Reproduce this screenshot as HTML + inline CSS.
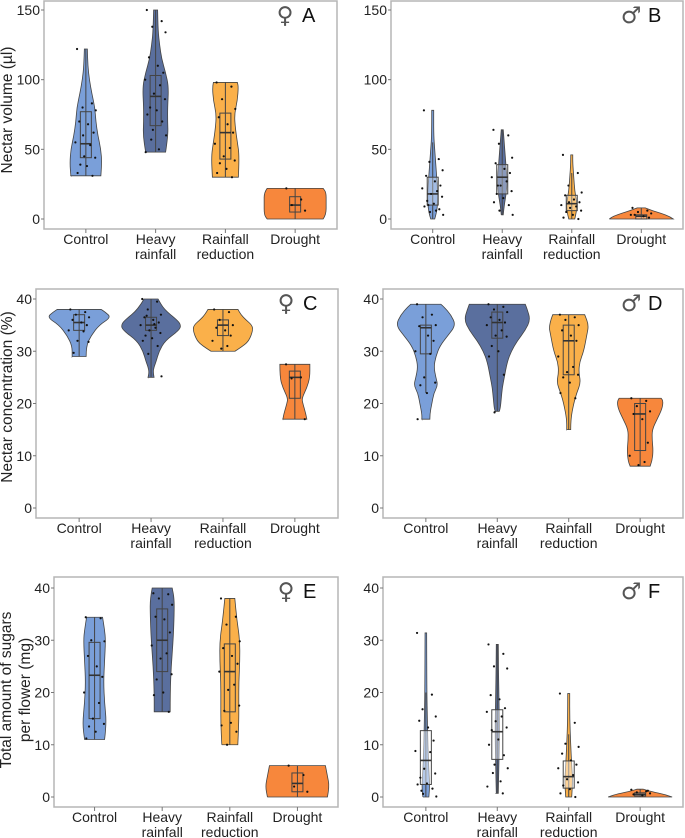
<!DOCTYPE html>
<html><head><meta charset="utf-8">
<style>
html,body{margin:0;padding:0;background:#fff;}
svg{display:block;font-family:"Liberation Sans",Arial,sans-serif;}
</style></head>
<body>
<svg id="chart" width="685" height="838" viewBox="0 0 685 838" xmlns="http://www.w3.org/2000/svg"></svg>
<script>
// ---------- data ----------
const categories = ["Control", "Heavy rainfall", "Rainfall reduction", "Drought"];
const catLine1 = ["Control", "Heavy", "Rainfall", "Drought"];
const catLine2 = ["", "rainfall", "reduction", ""];
const colors = ["#7A9FD9", "#5A6F9E", "#FAB04A", "#F7873C"];

const ticksVolume = [0, 50, 100, 150];
const ticksPct = [0, 10, 20, 30, 40];

// violin density profiles: [value, density]
const violinA = [
 [[31,15],[40,16],[50,15],[60,12],[70,10],[80,9],[90,6],[100,3.5],[110,2],[122,1.5]],
 [[48,10],[60,12.5],[70,12],[80,12],[95,13],[105,10],[115,6],[125,4],[135,2.5],[150,2]],
 [[30,13],[45,14],[55,12],[65,10],[75,9],[85,12],[95,13],[98,12]],
 [[0,28],[3,31],[12,31],[19,31],[22,28]]
];
const violinB = [
 [[0,2],[5,4],[12,5],[20,5],[30,4],[40,3],[50,2],[60,1],[78,1]],
 [[3,1],[10,2],[18,4],[28,5],[36,4],[45,3],[55,2],[64,1]],
 [[0,3],[6,5],[12,5],[20,3],[30,2],[40,1],[46,1]],
 [[0,32],[2,28],[4,20],[6,11],[8,4]]
];
const violinC = [
 [[29,7],[31,7],[33,12],[35,20],[36.5,32],[37.5,26],[38,22]],
 [[25,3],[26,2],[27,3],[28,5],[30,8],[32,14],[34,28],[35,30],[36,26],[38,13],[40,7]],
 [[30,12],[31,20],[32,26],[34,30],[35,29],[36,23],[37,18],[38,15]],
 [[17,12],[18,11],[20,8],[21,7],[23,12],[25,15],[27.5,15]]
];
const violinD = [
 [[17,4],[18,4],[20,6],[22,8],[23.5,12],[25,10],[27,8],[29,10],[31,14],[33,22],[35,30],[37,25],[38.5,18],[39,15]],
 [[18.5,2],[19,3],[21,4],[23,5],[25,7],[28,10],[30,14],[32,20],[34,28],[36,33],[38,30],[39,28]],
 [[15,2],[17,2],[20,5],[22,8],[24,12],[26,10],[28,11],[30,15],[33,18],[35,20],[37,16]],
 [[8,10],[9,12],[11,13],[13,12],[15,12],[17,17],[19,22],[20.5,23],[21,21]]
];
const violinE = [
 [[11,10],[14,12],[18,10],[22,9],[26,10],[30,11],[32,10],[34.4,8]],
 [[16.3,8],[20,8],[25,9],[30,11],[35,12],[38,12],[40,10]],
 [[10,8],[14,9],[18,9],[22,9],[26,10],[30,10],[34,7],[38,5]],
 [[0,30],[2,32],[4,30],[6,28]]
];
const violinF = [
 [[0,3],[2,4],[5,3],[10,2],[15,1.5],[20,1],[31.4,0.8]],
 [[0.7,1],[5,1.5],[12,2.2],[18,1.8],[24,1.2],[29.2,1]],
 [[0,3],[3,4],[6,3],[10,2],[15,1],[19.8,1]],
 [[0,32],[0.5,25],[1,12],[1.5,3]]
];

// box stats: [whiskerMin, q1, median, q3, whiskerMax]
const boxA = [[31,44,54,77,122],[48,67,88,103,150],[30,43,62,76,98],[0,5,10,16,22]];
const boxB = [[0,10,18,30,55],[3,18,30,39,64],[0,6,11,17,33],[0,0,2,3,8]];
const boxC = [[29,34,35.5,37,38],[25,34,35,36.5,40],[30,33,35,36,38],[17,21,25,26.2,27.5]];
const boxD = [[22,29.5,34.5,35,39],[18.5,32.5,35.5,37.5,39],[15,25.5,32,35,37],[8,11,18,20,21]];
const boxE = [[11,15,23.3,29.6,34.4],[16.3,24,30,36,40],[10,16.3,24,29.3,38],[0,1,2.6,4.6,6]];
const boxF = [[0,2.4,7,12.7,20],[0.7,7.2,12.5,16.7,29.2],[0,1.7,3.9,6.9,12],[0,0.2,0.5,0.8,1.5]];

// observed points
const pointsA = [
 [122,83,80,78,70,68,62,55,53,45,44,39,38,33,31,60],
 [150,142,138,134,116,110,105,100,96,90,86,80,78,75,70,64,60,57,50,48],
 [98,95,86,79,73,68,62,54,51,45,42,40,36,33,30],
 [22,14,10,6]
];
const pointsB = [
 [78,43,41,35,31,27,24,22,20,18,16,13,11,9,7,5,3,10,6],
 [64,60,54,44,40,36,33,30,27,24,20,18,15,12,10,6,3,24],
 [46,33,24,19,17,14,12,10,9,8,6,5,3,1,0,12],
 [8,6,5,4,3,2,1,3]
];
const pointsC = [
 [38,37.5,37,36.5,36,35.5,35,34,33.8,32,31.8,29.7],
 [40,39.5,38,37,36.5,36,35.5,35,34.5,34,33.5,33,32.5,32,31,29.5,25.2,36.8,35.2],
 [38,37.5,36,35,34.5,34,33,32,31,30.5],
 [27.5,25,24.8,17]
];
const pointsD = [
 [39,37,36.5,35,34.8,33,32,30,29.5,25,24,23.5,22,17],
 [39,38.5,38,37.5,36.5,36,35.5,35,34,33,32.8,31,30,29,25.5,18.3],
 [37,36.5,36,35,34,33,32,29,27,26,25.5,25,24,22,21],
 [21,20.5,19.5,18.5,18,17,12.5,10,8.8,8.2]
];
const pointsE = [
 [34.4,34.2,30,29.8,27,25,23,20,18,15,14,13.5,12.5,11.2],
 [39,38.8,38,36.8,34.5,34,31.5,29,27.5,26.5,23.5,22.5,20,19.5,16.3],
 [38,34.5,33,29.8,28.5,27,25.5,24,21.5,20.5,17.5,16.5,14.2,13.7,12.5,10],
 [6,4.2,2,1]
];
const pointsF = [
 [31.4,19.6,16.8,15.4,14.6,13.3,10.8,8.8,8.6,5.4,4.5,3.7,2.6,2.4,1.6,0.6,0.1,1.2],
 [29.2,27.4,25,24.6,19.5,18.7,17,16.3,15.4,14.5,13.3,12.8,11,10,8,6.2,5.5,4.6,3,2,0.7],
 [19.8,14.2,10.2,9.6,8.3,7,6.2,5.5,4.2,3.4,2.8,2.2,1.5,0.7,0],
 [1.4,1.1,0.9,0.7,0.5,0.3,1.2]
];

// ---------- panel layout ----------
const panels = [
 {id:"a", sex:"♀", letter:"A", x0:44, x1:337, top:1, bottom:229, yLo:0, yHi:150, pLo:219, pHi:10, ticks:ticksVolume, violins:violinA, boxes:boxA, points:pointsA, boxHalf:5.5, boxFill:"none", title:["Nectar volume (µl)"], titleX:[12], titleY:110},
 {id:"b", sex:"♂", letter:"B", x0:391, x1:683, top:1, bottom:229, yLo:0, yHi:150, pLo:219, pHi:10, ticks:ticksVolume, violins:violinB, boxes:boxB, points:pointsB, boxHalf:5.5, boxFill:"rgba(255,255,255,0.3)", title:null},
 {id:"c", sex:"♀", letter:"C", x0:36, x1:338, top:289, bottom:518, yLo:0, yHi:40, pLo:508, pHi:299, ticks:ticksPct, violins:violinC, boxes:boxC, points:pointsC, boxHalf:5.5, boxFill:"none", title:["Nectar concentration (%)"], titleX:[12], titleY:397},
 {id:"d", sex:"♂", letter:"D", x0:383, x1:683, top:289, bottom:518, yLo:0, yHi:40, pLo:508, pHi:299, ticks:ticksPct, violins:violinD, boxes:boxD, points:pointsD, boxHalf:5.5, boxFill:"none", title:null},
 {id:"e", sex:"♀", letter:"E", x0:54, x1:338, top:577, bottom:807, yLo:0, yHi:40, pLo:797, pHi:588, ticks:ticksPct, violins:violinE, boxes:boxE, points:pointsE, boxHalf:5.5, boxFill:"none", title:["Total amount of sugars","per flower (mg)"], titleX:[11,30], titleY:690},
 {id:"f", sex:"♂", letter:"F", x0:383, x1:683, top:577, bottom:807, yLo:0, yHi:40, pLo:797, pHi:588, ticks:ticksPct, violins:violinF, boxes:boxF, points:pointsF, boxHalf:5.5, boxFill:"rgba(255,255,255,0.45)", title:null}
];

const NS = "http://www.w3.org/2000/svg";
const svg = document.getElementById("chart");
function mk(tag, attrs, parent){
  const e = document.createElementNS(NS, tag);
  for (const k in attrs) e.setAttribute(k, attrs[k]);
  (parent||svg).appendChild(e);
  return e;
}
function smoothPath(pts){
  let d = "M"+pts[0][0].toFixed(2)+","+pts[0][1].toFixed(2);
  for (let i=1;i<pts.length-1;i++){
    const mx=(pts[i][0]+pts[i+1][0])/2, my=(pts[i][1]+pts[i+1][1])/2;
    d += " Q"+pts[i][0].toFixed(2)+","+pts[i][1].toFixed(2)+" "+mx.toFixed(2)+","+my.toFixed(2);
  }
  const l=pts[pts.length-1];
  d += " L"+l[0].toFixed(2)+","+l[1].toFixed(2);
  return d;
}
const jitter = [-0.8,0.55,-0.3,0.9,-0.6,0.2,0.7,-0.95,0.4,-0.15,0.85,-0.5,0.1,-0.75,0.6,-0.25,0.95,-0.4,0.3,-0.9,0.5];

panels.forEach(p=>{
  const g = mk("g", {});
  
  
  const band = (p.x1-p.x0)/(categories.length-1+1.2);
  const xOf = i => p.x0 + band*(0.6+i);
  const yOf = v => p.pLo + (v-p.yLo)*(p.pHi-p.pLo)/(p.yHi-p.yLo);

  const fr = mk("rect", {x:p.x0, y:p.top, width:p.x1-p.x0, height:p.bottom-p.top, fill:"none", stroke:"#b5b5b5", "stroke-width":1.5}, g);
  
  

  p.ticks.forEach(t=>{
    const y=yOf(t);
    const tk = mk("line",{x1:p.x0-3,x2:p.x0,y1:y,y2:y,stroke:"#777","stroke-width":1},g);
    
    
    const tl = mk("text",{x:p.x0-4,y:y+5,"text-anchor":"end","font-size":14,fill:"#222"},g);
    tl.textContent = t;
    
    
  });

  categories.forEach((c,i)=>{
    const x=xOf(i);
    const tk = mk("line",{x1:x,x2:x,y1:p.bottom,y2:p.bottom+4,stroke:"#777","stroke-width":1},g);
    
    
    const t1 = mk("text",{x:x,y:p.bottom+15,"text-anchor":"middle","font-size":14,fill:"#222"},g);
    t1.textContent = catLine1[i];
    
    
    if (catLine2[i]){
      const t2 = mk("text",{x:x,y:p.bottom+30,"text-anchor":"middle","font-size":14,fill:"#222"},g);
      t2.textContent = catLine2[i];
      
      
    }

    const prof = p.violins[i];
    const right = prof.map(q=>[x+q[1], yOf(q[0])]);
    const left = prof.slice().reverse().map(q=>[x-q[1], yOf(q[0])]);
    let d = "M"+(x-prof[0][1])+","+yOf(prof[0][0])+" L"+right[0][0]+","+right[0][1];
    d += smoothPath(right).replace(/^M[^ ]+/,"");
    d += " L"+left[0][0]+","+left[0][1];
    d += smoothPath(left).replace(/^M[^ ]+/,"") + " Z";
    const v = mk("path",{d:d,fill:colors[i],stroke:"#444","stroke-width":0.8},g);
    
    

    const b = p.boxes[i];
    const wl = mk("line",{x1:x,x2:x,y1:yOf(b[0]),y2:yOf(b[4]),stroke:"#444","stroke-width":1},g);
    
    
    const br = mk("rect",{x:x-p.boxHalf,y:yOf(b[3]),width:2*p.boxHalf,height:Math.max(0.5,yOf(b[1])-yOf(b[3])),fill:p.boxFill,stroke:"#444","stroke-width":1},g);
    
    
    const md = mk("line",{x1:x-p.boxHalf,x2:x+p.boxHalf,y1:yOf(b[2]),y2:yOf(b[2]),stroke:"#333","stroke-width":1.6},g);
    
    

    p.points[i].forEach((val,k)=>{
      const pt = mk("circle",{cx:x+jitter[k%jitter.length]*11,cy:yOf(val),r:1.1,fill:"#111"},g);
      
      
    });
  });

  const s = mk("text",{x:p.x1-52,y:p.top+22,"text-anchor":"middle","font-size":23,fill:"#555","font-family":"DejaVu Sans, sans-serif"},g);
  s.textContent = p.sex;
  
  
  const L = mk("text",{x:p.x1-35,y:p.top+21,"font-size":20,fill:"#111"},g);
  L.textContent = p.letter;
  
  

  if (p.title){
    p.title.forEach((tt,j)=>{
      const x=p.titleX[j];
      const t = mk("text",{x:x,y:p.titleY,"text-anchor":"middle","font-size":15.5,fill:"#222",transform:"rotate(-90 "+x+" "+p.titleY+")"},g);
      t.textContent = tt;
      
      
    });
  }
});
</script>
</body></html>
